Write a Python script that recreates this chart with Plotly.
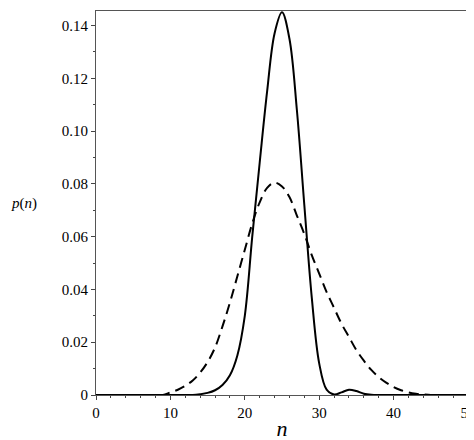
import plotly.graph_objects as go

n = list(range(0, 51))
solid = [0]*14 + [0.0003, 0.0008, 0.0018, 0.0038, 0.0075, 0.015, 0.030, 0.060, 0.088, 0.115, 0.137,
                  0.145, 0.135, 0.108, 0.072, 0.037, 0.012, 0.002, 0.0002, 0.001, 0.002,
                  0.0015, 0.0005, 0.0001] + [0]*13
dashed = [0]*10 + [0.001, 0.002, 0.0035, 0.0055, 0.0085, 0.0125, 0.018, 0.026, 0.035, 0.045,
                   0.055, 0.065, 0.073, 0.0785, 0.0805, 0.079, 0.075, 0.068, 0.061, 0.053,
                   0.046, 0.039, 0.033, 0.027, 0.022, 0.017, 0.013, 0.0095, 0.0068, 0.0047,
                   0.003, 0.0018, 0.001, 0.0005, 0.0002] + [0]*6
yticks = [0, 0.02, 0.04, 0.06, 0.08, 0.10, 0.12, 0.14]
yticktext = ["0", "0.02", "0.04", "0.06", "0.08", "0.10", "0.12", "0.14"]
xticks = [0, 10, 20, 30, 40, 50]

serif = "Liberation Serif, Times New Roman, serif"
fig = go.Figure()
fig.add_trace(go.Scatter(x=n, y=dashed, mode="lines", line=dict(color="black", width=2, dash="10px,6px", shape="spline")))
fig.add_trace(go.Scatter(x=n, y=solid, mode="lines", line=dict(color="black", width=2, shape="spline")))
font = dict(family=serif, size=15, color="black")
fig.update_layout(
    width=474, height=440, margin=dict(l=88, r=14, t=3, b=53),
    plot_bgcolor="white", paper_bgcolor="white", showlegend=False, font=font,
    xaxis=dict(range=[0, 50], tickvals=xticks, ticks="outside", ticklen=4, showgrid=False, zeroline=False,
               showline=True, linecolor="#555", mirror=True,
               minor=dict(dtick=2, ticks="outside", ticklen=2),
               title=dict(text="<i>n</i>", font=dict(family=serif, size=22), standoff=0)),
    yaxis=dict(range=[0, 0.1455], tickvals=yticks, ticktext=yticktext, ticks="outside", ticklen=4,
               showgrid=False, zeroline=False, showline=True, linecolor="#555", mirror=True,
               minor=dict(tickvals=[0.01, 0.03, 0.05, 0.07, 0.09, 0.11, 0.13], ticks="outside", ticklen=2)),
)
fig.add_annotation(text="<i>p</i>(<i>n</i>)", xref="paper", yref="paper", x=-0.235, y=0.5, showarrow=False,
                   xanchor="left", font=dict(family=serif, size=15))
fig.write_html("out.html")
